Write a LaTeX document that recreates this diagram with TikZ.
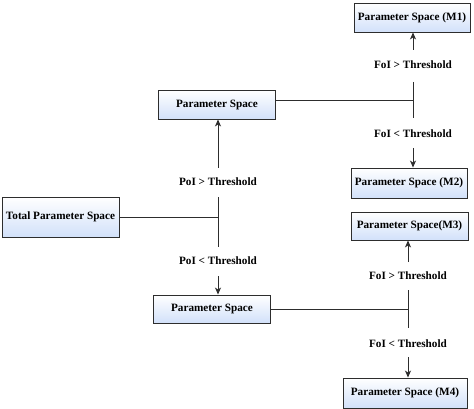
\documentclass[tikz,border=0pt]{standalone}
\usepackage{fontspec}
\setmainfont{Liberation Serif}
\usepackage{tikz}
\usetikzlibrary{%
	calc,%
	arrows.meta,%
	shapes
}
\definecolor{boxblue}{RGB}{210,225,250}
\definecolor{linegray}{RGB}{45,45,45}
\tikzset{
	psbox/.style={draw=linegray, line width=0.9pt, top color=white, bottom color=boxblue,
		inner sep=1pt, minimum height=29pt, minimum width=117pt, font=\bfseries\fontsize{11.2}{13}\selectfont},
	cond/.style={font=\bfseries\fontsize{11.2}{13}\selectfont, inner sep=1pt},
	wire/.style={draw=linegray, line width=0.9pt},
	>={Stealth[length=7pt,width=6pt,inset=2pt]}
}

\begin{document}
\begin{tikzpicture}[x=1pt,y=-1pt]
		\useasboundingbox (0,0) rectangle (474,409);
		
		% Boxes
		\node[psbox, minimum height=40pt] (tot) at (60.5,217) {Total Parameter Space};
		\node[psbox] (ps1) at (217,104.5) {Parameter Space};
		\node[psbox, minimum height=28pt] (ps2) at (212,309) {Parameter Space};
		\node[psbox, minimum width=116pt] (m1) at (412,17.5) {Parameter Space (M1)};
		\node[psbox, minimum width=116pt, minimum height=30pt] (m2) at (409,183) {Parameter Space (M2)};
		\node[psbox, minimum height=28pt] (m3) at (409.5,226) {Parameter Space(M3)};
		\node[psbox, minimum width=124pt, minimum height=30pt] (m4) at (405,393) {Parameter Space (M4)};
		
		% Conditions
		\node[cond] (c1up) at (218,182) {PoI > Threshold};
		\node[cond] (c1dn) at (218,261) {PoI < Threshold};
		\node[cond] (c2up) at (413,65) {FoI > Threshold};
		\node[cond] (c2dn) at (413,134) {FoI < Threshold};
		\node[cond] (c3up) at (408,276) {FoI > Threshold};
		\node[cond] (c3dn) at (408,344) {FoI < Threshold};
		
		% Split points
		\coordinate (j1) at (218,217);
		\coordinate (j1t) at (218,197);
		\coordinate (j1b) at (218,247);
		\coordinate (a1u) at (218,168);
		\coordinate (a1d) at (218,276);
		
		\coordinate (j2) at (413,100);
		\coordinate (j2t) at (413,82);
		\coordinate (j2b) at (413,118);
		\coordinate (a2u) at (413,50);
		\coordinate (a2d) at (413,148);
		
		\coordinate (j3) at (408,309);
		\coordinate (j3t) at (408,290);
		\coordinate (j3b) at (408,328);
		\coordinate (a3u) at (408,262);
		\coordinate (a3d) at (408,357);
		
		% Bars and feeds
		\foreach \j in {j1,j2,j3}
		\draw[wire] (\j t) -- (\j b);
		\draw[wire] (tot.east) -- (j1);
		\draw[wire] (ps1.east |- j2) -- (j2);
		\draw[wire] (ps2.east) -- (j3);
		
		% Arrows
		\draw[wire,->] (a1u) -- (a1u |- ps1.south);
		\draw[wire,->] (a1d) -- (a1d |- ps2.north);
		\draw[wire,->] (a2u) -- (a2u |- m1.south);
		\draw[wire,->] (a2d) -- (a2d |- m2.north);
		\draw[wire,->] (a3u) -- (a3u |- m3.south);
		\draw[wire,->] (a3d) -- (a3d |- m4.north);
	\end{tikzpicture}
\end{document}
